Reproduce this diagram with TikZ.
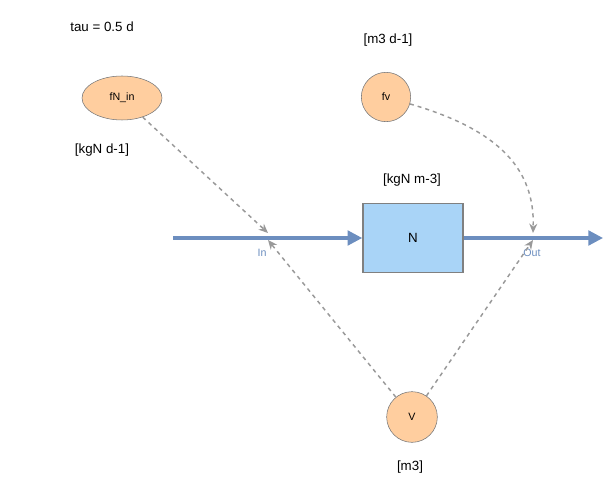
\documentclass[tikz,border=0pt]{standalone}
\usepackage{fontspec}
\setmainfont{Liberation Sans}
\usetikzlibrary{positioning,arrows.meta,shapes.geometric}
\definecolor{peach}{HTML}{FFCE9F}
\definecolor{peachline}{HTML}{36393D}
\definecolor{boxblue}{HTML}{A9D4F7}
\definecolor{flowblue}{HTML}{6C8EBF}
\definecolor{dashgray}{HTML}{999999}
\begin{document}
\begin{tikzpicture}
                    [x=0.75pt, y=-0.75pt,
                    par/.style={ellipse,
                        fill=peach, draw=peachline!70,
                        font=\footnotesize, inner sep=0pt},
                    state/.style={rectangle,
                        fill=boxblue, draw=gray, line width=1.2pt,
                        minimum width=75pt, minimum height=52pt, font=\normalsize},
                    flow/.style={draw=flowblue, line width=2.4pt,
                        -{Triangle[length=11pt,width=11pt]}},
                    link/.style={draw=dashgray, dashed, line width=1.1pt,
                        -{Stealth[length=7pt,width=6pt]}},
                    unit/.style={font=\normalsize},
                    lbl/.style={font=\footnotesize, text=flowblue}]
                    \useasboundingbox (0,0) rectangle (613,484);

                    \node[par, minimum width=60pt, minimum height=33pt]
                        (fNin) at (122,98) {fN\_in};
                    \node[par, minimum size=37pt]
                        (fv) at (386,97) {fv};
                    \node[par, minimum size=38pt]
                        (V) at (412,417) {V};
                    \node[state] (N) at (413,238) {N};

                    \coordinate (src) at (173,238);
                    \coordinate (sink) at (603,238);
                    \coordinate (In) at (268,238);
                    \coordinate (Out) at (533,238);

                    \node[unit] (tau) at (102,27) {tau = 0.5 d};
                    \node[unit] (uin) at (102,150) {[kgN d-1]};
                    \node[unit] (ufv) at (388,40) {[m3 d-1]};
                    \node[unit] (uN) at (412,180) {[kgN m-3]};
                    \node[unit] (uV) at (410,467) {[m3]};
                    \node[lbl] (lin) at (262,253) {In};
                    \node[lbl] (lout) at (532,253) {Out};

                    \draw[flow] (src) -- (N);
                    \draw[flow] (N) -- (sink);

                    \draw[link] (fNin) -- ([shift={(0,-5)}]In);
                    \draw[link] (V) -- ([shift={(0,2)}]In);
                    \draw[link] (fv) .. controls (500,130) and (535,170)
                        .. ([shift={(0,-5)}]Out);
                    \draw[link] (V) -- ([shift={(0,2)}]Out);
\end{tikzpicture}
\end{document}
